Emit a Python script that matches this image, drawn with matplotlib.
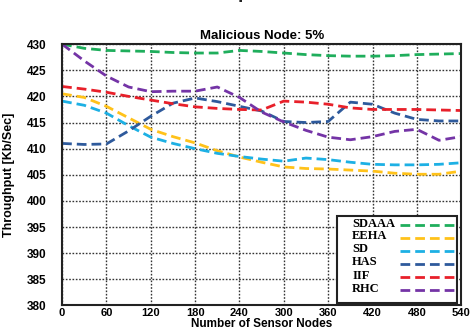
import numpy as np
import matplotlib.pyplot as plt
from matplotlib.patches import Rectangle

# sensor node counts and throughput curves (Kb/Sec)
nodes = [0, 30, 60, 90, 120, 150, 180, 210, 240, 270, 300, 330, 360, 390, 420, 450, 480, 510, 540]

sdaaa = [430, 429.2, 428.8, 428.7, 428.6, 428.4, 428.3, 428.3, 428.8, 428.6, 428.3, 428.0, 427.8, 427.7, 427.7, 427.8, 428.0, 428.1, 428.2]
eeha = [420.5, 419.8, 418.1, 415.9, 413.7, 412.3, 411.1, 409.6, 408.4, 407.4, 406.5, 406.2, 406.1, 405.9, 405.7, 405.3, 405.1, 405.1, 405.7]
sd = [419.1, 418.3, 416.8, 414.4, 412.2, 411.0, 410.0, 409.1, 408.5, 408.0, 407.6, 408.2, 407.9, 407.4, 407.0, 406.9, 406.9, 407.0, 407.3]
has = [411.0, 410.8, 410.9, 413.4, 416.2, 418.7, 419.7, 419.0, 418.1, 417.2, 415.2, 415.0, 415.2, 418.9, 418.5, 416.8, 415.6, 415.3, 415.3]
iif = [421.9, 421.4, 420.8, 420.0, 419.3, 418.6, 418.0, 417.7, 417.5, 417.4, 419.1, 418.9, 418.5, 417.8, 417.5, 417.5, 417.5, 417.4, 417.3]
rhc = [430, 426.8, 423.9, 421.8, 420.9, 421.0, 421.0, 421.8, 419.8, 417.0, 415.1, 413.5, 412.2, 411.7, 412.3, 413.3, 413.7, 411.6, 412.3]

series = [
    ("SDAAA", sdaaa, "#1fae5c"),
    ("EEHA", eeha, "#ffc21a"),
    ("SD", sd, "#1db0e4"),
    ("HAS", has, "#2e5a9c"),
    ("IIF", iif, "#e8202a"),
    ("RHC", rhc, "#7434a6"),
]

xticks = [0, 60, 120, 180, 240, 300, 360, 420, 480, 540]
yticks = [380, 385, 390, 395, 400, 405, 410, 415, 420, 425, 430]

dash = (0, (3.5, 1.8))

fig = plt.figure(figsize=(4.74, 3.27), dpi=100)
ax = fig.add_axes([0.131, 0.066, 0.842, 0.799])

for name, vals, col in series:
    ax.plot(nodes, vals, color=col, lw=2.0, ls=dash)

ax.set_xlim(0, 540)
ax.set_ylim(380, 430)
ax.set_xticks(xticks)
ax.set_yticks(yticks)
ax.grid(True, color="#333333", ls=(0, (1.2, 1.2)), lw=1.0)
ax.tick_params(length=0)
ax.tick_params(axis="y", pad=11, labelsize=8.5)
ax.tick_params(axis="x", pad=1.5, labelsize=8)
for lab in ax.get_xticklabels() + ax.get_yticklabels():
    lab.set_fontweight("bold")
    lab.set_family("Liberation Sans")
for sp in ax.spines.values():
    sp.set_linewidth(1.5)
    sp.set_color("#222222")

ax.set_title("Malicious Node: 5%", fontsize=9.5, fontweight="bold",
             family="Liberation Sans", pad=4)
ax.set_xlabel("Number of Sensor Nodes", fontsize=8.5, fontweight="bold",
              family="Liberation Sans", labelpad=0)
ax.set_ylabel("Throughput [Kb/Sec]", fontsize=9, fontweight="bold",
              family="Liberation Sans", labelpad=9)

# legend box: names on the left, dashed samples running to the right edge
box = Rectangle((0.689, 0.010), 0.301, 0.333, transform=ax.transAxes,
                facecolor="white", edgecolor="#222222", lw=1.5, zorder=5)
ax.add_patch(box)
rows = [0.312, 0.265, 0.216, 0.166, 0.114, 0.064]
for (name, vals, col), ry in zip(series, rows):
    ax.text(0.727, ry, name, transform=ax.transAxes, ha="left", va="center",
            family="Liberation Serif", fontweight="bold", fontsize=9, zorder=6)
    ax.plot([0.847, 0.988], [ry - 0.006, ry - 0.006], transform=ax.transAxes,
            color=col, lw=2.0, ls=dash, zorder=6, clip_on=False)

# descender of caption text cut at the top edge
fig.text(0.513, 1.0 + 1.5 / 327, "p", fontsize=14, fontweight="bold",
         family="Liberation Sans", ha="center", va="baseline", color="#222222")

fig.savefig("out.png", dpi=100)
